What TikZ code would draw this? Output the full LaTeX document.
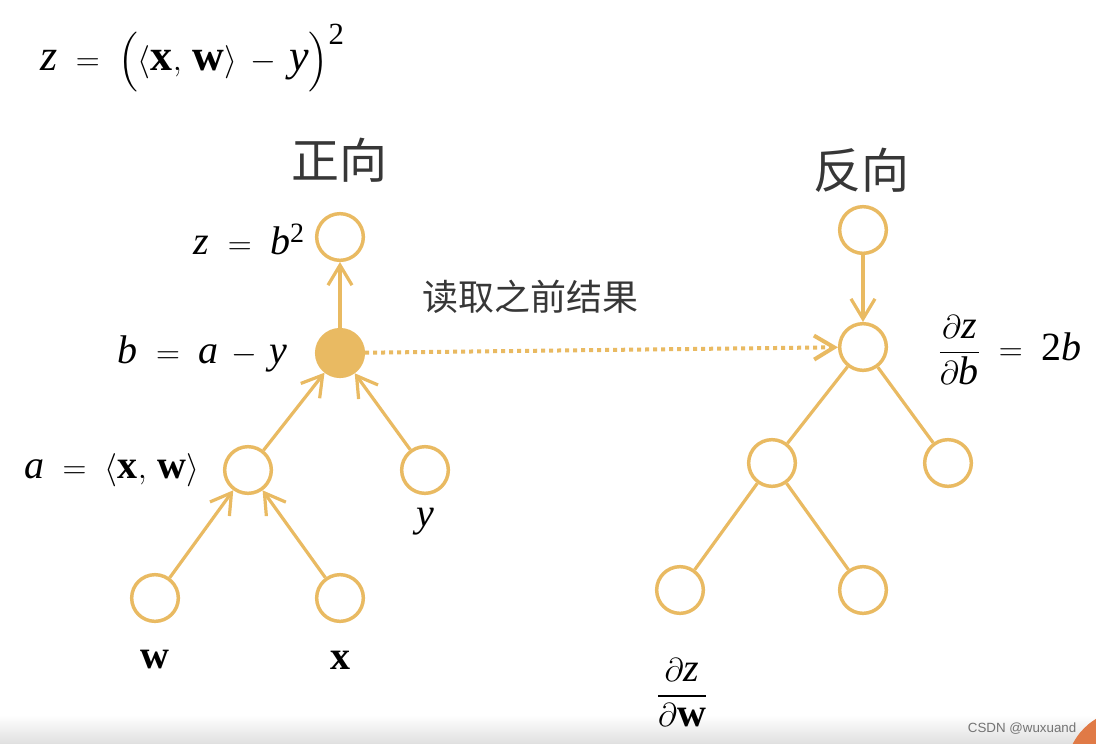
\documentclass[tikz,border=0pt]{standalone}
\usepackage{amsmath}
\usepackage{fontspec}
\setmainfont{Liberation Serif}
\newfontfamily\cjk{Noto Sans CJK SC}
\newfontfamily\wmfont{Liberation Sans}
\usepackage{tikz}
\usetikzlibrary{arrows.meta, positioning, calc}

\definecolor{ochre}{RGB}{233,186,98}
\definecolor{inkgray}{RGB}{55,55,55}
\definecolor{blob}{RGB}{224,122,70}

\thickmuskip=10mu plus 4mu
\medmuskip=7mu plus 2mu minus 3mu

\begin{document}
\begin{tikzpicture}[x=0.75pt, y=-0.75pt]
		
		\tikzstyle{nodec}=[circle, draw=ochre, line width=2.6pt, minimum size=35pt, inner sep=0pt]
		\tikzstyle{edge}=[draw=ochre, line width=2.4pt]
		\tikzstyle{arr}=[edge, -{Straight Barb[length=15pt, width=18pt]}]
		\tikzstyle{lbl}=[font=\fontsize{30}{36}\selectfont, inner sep=0pt]
		\tikzstyle{cn}=[font=\cjk\fontsize{36}{40}\selectfont, text=inkgray]
		
		\useasboundingbox (0,0) rectangle (1096,743);
		\fill [white] (0,0) rectangle (1096,743);
		\shade [top color=white, bottom color=black!12] (0,715) rectangle (1096,743);
		\begin{scope}
		\clip (0,0) rectangle (1096,743);
		\fill [blob] (1128,772) circle [radius=62];
		\end{scope}
		
		%% forward
		\node (fz) at (340,237) [nodec] {};
		\node (fb) at (340,353) [nodec, fill=ochre] {};
		\node (fa) at (248,470) [nodec] {};
		\node (fy) at (425,470) [nodec] {};
		\node (fw) at (155,598) [nodec] {};
		\node (fx) at (340,598) [nodec] {};
		
		%% backward
		\node (bz) at (863,230) [nodec] {};
		\node (bb) at (863,347) [nodec] {};
		\node (ba) at (772,463) [nodec] {};
		\node (by) at (948,463) [nodec] {};
		\node (bw) at (680,590) [nodec] {};
		\node (bx) at (863,590) [nodec] {};
		
		
		\draw [arr] (fb) -- (fz);
		\draw [arr] (fa) -- (fb);
		\draw [arr] (fy) -- (fb);
		\draw [arr] (fw) -- (fa);
		\draw [arr] (fx) -- (fa);
		
		\draw [arr] (bz) -- (bb);
		\draw [edge] (bb) -- (ba);
		\draw [edge] (bb) -- (by);
		\draw [edge] (ba) -- (bw);
		\draw [edge] (ba) -- (bx);
		
		\draw [arr, line width=3pt, dash pattern=on 3pt off 3pt] (fb) -- (bb);
		
		
		\node (formula) [lbl, font=\fontsize{33}{40}\selectfont, anchor=west] at (40,58) {$\mathit{z} = \Big(\langle\mathbf{x},\,\mathbf{w}\rangle - \mathit{y}\Big)^{\mathrm{2}}$};
		
		\node (fwd) [cn] at (339,160) {正向};
		\node (bwd) [cn] at (861,170) {反向};
		\node (readprev) [cn, font=\cjk\fontsize{27}{32}\selectfont] at (530,297) {读取之前结果};
		
		\node [lbl, anchor=east] at (305,239) {$\mathit{z} = \mathit{b}^{\mathrm{2}}$};
		\node [lbl, anchor=east] at (288,354) {$\mathit{b} = \mathit{a} - \mathit{y}$};
		\node [lbl, anchor=east] at (200,470) {$\mathit{a} = \langle\mathbf{x},\,\mathbf{w}\rangle$};
		\node [lbl] at (425,522) {$\mathit{y}$};
		\node [lbl] at (155,660) {$\mathbf{w}$};
		\node [lbl] at (340,660) {$\mathbf{x}$};
		
		\node [lbl, anchor=west] at (938,350) {$\dfrac{\partial\mathit{z}}{\partial\mathit{b}} = \mathrm{2}\mathit{b}$};
		\node [lbl] at (682,693) {$\dfrac{\partial\mathit{z}}{\partial\mathbf{w}}$};
		
		\node [font=\wmfont\fontsize{10}{12}\selectfont, text=black!55, anchor=east] at (1081,729) {CSDN @wuxuand};
		
		
\end{tikzpicture}
\end{document}
